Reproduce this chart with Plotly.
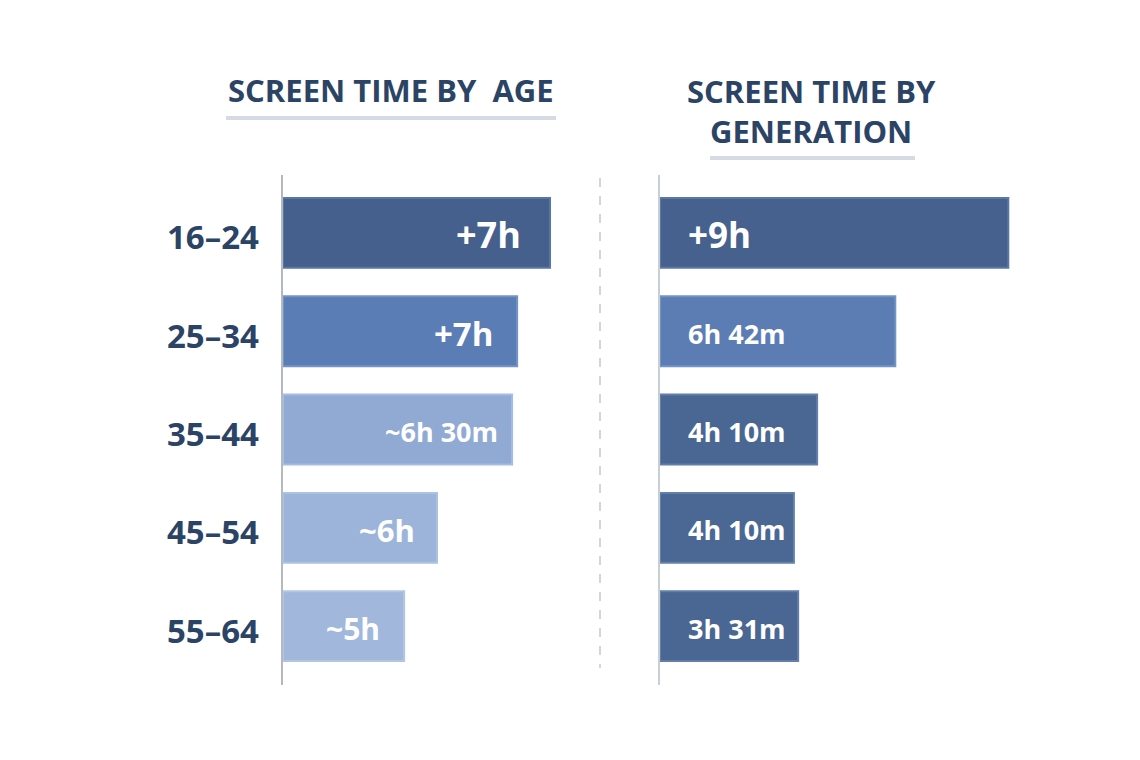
import plotly.graph_objects as go

# ---- data ----
age_groups = ["16–24", "25–34", "35–44", "45–54", "55–64"]
age_hours = [6.9, 6.05, 5.92, 3.98, 3.13]          # bar lengths
age_labels = ["+7h", "+7h", "~6h 30m", "~6h", "~5h"]

gen_groups = ["Gen Z", "Millennials", "Gen X", "Boomers", "Silent"]
gen_hours = [9.0, 6.08, 4.06, 3.46, 3.57]
gen_labels = ["+9h", "6h 42m", "4h 10m", "4h 10m", "3h 31m"]

# ---- styling ----
age_colors = ["#45608c", "#5a7db5", "#91aad4", "#9cb4da", "#a1b8dc"]
age_edge = ["#5a76a3", "#7594c4", "#a6bce0", "#adc2e2", "#b2c6e4"]
age_label_sizes = [36, 33, 27, 31, 30]
age_label_pad = [-27, -22, -12, -20, -22]
gen_colors = ["#46618d", "#5b7db4", "#4a6693", "#4b6794", "#4a6693"]
gen_edge = ["#5b78a4", "#7393c5", "#627ea9", "#6380aa", "#627ea9"]
gen_label_sizes = [35, 27, 27, 27, 27]

W, H = 1140, 760
PX_PER_H = 38.7
FONT = "Open Sans"
DARK = "#2b4466"

fig = go.Figure()
fig.add_trace(go.Bar(
    y=list(range(len(age_groups))), x=age_hours, orientation="h",
    marker=dict(color=age_colors, line=dict(color=age_edge, width=2)),
    width=0.71, xaxis="x", yaxis="y", hoverinfo="skip", showlegend=False))
fig.add_trace(go.Bar(
    y=list(range(len(gen_groups))), x=gen_hours, orientation="h",
    marker=dict(color=gen_colors, line=dict(color=gen_edge, width=2)),
    width=0.71, xaxis="x2", yaxis="y2", hoverinfo="skip", showlegend=False))

left_dom = [283 / W, 560 / W]
right_dom = [660 / W, 1030 / W]
ydom = [1 - 685 / H, 1 - 175 / H]
yrange = [4.6, -0.59]

fig.update_layout(
    width=W, height=H, margin=dict(l=0, r=0, t=0, b=0),
    paper_bgcolor="white", plot_bgcolor="white",
    font=dict(family=FONT, color=DARK),
    xaxis=dict(domain=left_dom, range=[0, (left_dom[1] - left_dom[0]) * W / PX_PER_H],
               showgrid=False, zeroline=False, showticklabels=False),
    xaxis2=dict(domain=right_dom, range=[0, (right_dom[1] - right_dom[0]) * W / PX_PER_H],
                showgrid=False, zeroline=False, showticklabels=False, anchor="y2"),
    yaxis=dict(domain=ydom, range=yrange, showticklabels=False,
               ticks="", showgrid=False, zeroline=False,
               showline=True, linecolor="#b4b8c0", linewidth=1.5),
    yaxis2=dict(domain=ydom, range=yrange, anchor="x2", showticklabels=False,
                ticks="", showgrid=False, zeroline=False,
                showline=True, linecolor="#c9cdd4", linewidth=1.5),
)

ann = []
# category labels
for i, g in enumerate(age_groups):
    ann.append(dict(x=0, y=i, xref="x", yref="y", text=g, showarrow=False,
                    xanchor="right", xshift=-22, yshift=-4,
                    font=dict(size=33, color=DARK, family=FONT, weight="bold")))
for i, (v, t) in enumerate(zip(age_hours, age_labels)):
    ann.append(dict(x=v, y=i, xref="x", yref="y", text=t, showarrow=False,
                    xanchor="right", xshift=age_label_pad[i], yshift=-2,
                    font=dict(size=age_label_sizes[i], color="white", family=FONT, weight="bold")))
for i, (v, t) in enumerate(zip(gen_hours, gen_labels)):
    ann.append(dict(x=0, y=i, xref="x2", yref="y2", text=t, showarrow=False,
                    xanchor="left", xshift=26, yshift=-2,
                    font=dict(size=gen_label_sizes[i], color="white", family=FONT, weight="bold")))
# titles
ann.append(dict(x=391 / W, y=1 - 90 / H, xref="paper", yref="paper",
                text="SCREEN TIME BY  AGE", showarrow=False, xanchor="center", yanchor="middle",
                font=dict(size=31, color=DARK, family=FONT, weight="bold")))
ann.append(dict(x=811 / W, y=1 - 111 / H, xref="paper", yref="paper",
                text="SCREEN TIME BY<br>GENERATION", showarrow=False, xanchor="center",
                yanchor="middle", font=dict(size=31, color=DARK, family=FONT, weight="bold")))
fig.update_layout(annotations=ann)

shapes = [
    dict(type="line", xref="paper", yref="paper", x0=226 / W, x1=556 / W,
         y0=1 - 118 / H, y1=1 - 118 / H, line=dict(color="#d5dae3", width=4)),
    dict(type="line", xref="paper", yref="paper", x0=710 / W, x1=915 / W,
         y0=1 - 158 / H, y1=1 - 158 / H, line=dict(color="#d5dae3", width=4)),
    dict(type="line", xref="paper", yref="paper", x0=600 / W, x1=600 / W,
         y0=1 - 178 / H, y1=1 - 668 / H, line=dict(color="#c4c8cf", width=1.5, dash="dash")),
]
fig.update_layout(shapes=shapes)

fig.write_html("out.html")
